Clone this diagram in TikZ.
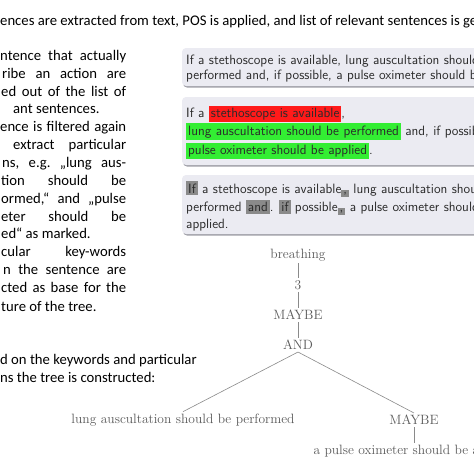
\documentclass[tikz,border=0pt]{standalone}
\usepackage{fontspec}
\newfontfamily\cali{Carlito}
\definecolor{boxfill}{HTML}{EBEBF2}
\definecolor{shadowgray}{HTML}{A0A0A8}
\definecolor{hlred}{HTML}{FF1A1A}
\definecolor{hlgreen}{HTML}{33EE33}
\definecolor{hlgray}{HTML}{8A8A8A}
\definecolor{textgray}{HTML}{2A2A2A}
\definecolor{treegray}{HTML}{5A5A5A}
\definecolor{linegray}{HTML}{8A8A8A}
\setlength{\fboxsep}{2pt}
\newcommand\jline[4]{\node[lt] (#1) at (#2,#3) {\hbox to \dimexpr126pt-#2pt\relax{#4}};}
\begin{document}
\begin{tikzpicture}[x=1pt,y=-1pt,
  lt/.style={font=\cali\fontsize{14.7}{17}\selectfont, inner sep=0pt, anchor=base west, text=black},
  bx/.style={font=\sffamily\fontsize{13.5}{16}\selectfont, inner sep=0pt, anchor=base west, text=textgray},
  tr/.style={font=\fontsize{13.5}{16}\selectfont, text=treegray, inner sep=2pt},
  edge/.style={draw=linegray, line width=0.6pt},
  panel/.style={fill=boxfill, rounded corners=4pt},
  panelshadow/.style={fill=shadowgray, rounded corners=4pt}]
\useasboundingbox (0,0) rectangle (474,474);
\clip (0,0) rectangle (474,474);
\fill[white] (0,0) rectangle (474,474);

% heading line
\node[lt] (head) at (0,25) {ences are extracted from text, POS is applied, and list of relevant sentences is generated.};

% left paragraph
\jline{l1}{0}{60.5}{ntence\hfill that\hfill actually}
\jline{l2}{2}{78}{ribe\hfill an\hfill action\hfill are}
\jline{l3}{1}{96}{ed\hfill out\hfill of\hfill the\hfill list\hfill of}
\node[lt] (l4) at (13,113.5) {ant sentences.};
\jline{l5}{0}{131.5}{ence\hfill is\hfill filtered\hfill again}
\jline{l6}{13}{149.5}{extract\hfill particular}
\jline{l7}{2}{167.5}{ns,\hfill e.g.\hfill „lung\hfill aus-}
\jline{l8}{1}{185.5}{tion\hfill should\hfill be}
\jline{l9}{1}{203}{ormed,“\hfill and\hfill „pulse}
\jline{l10}{1}{221}{eter\hfill should\hfill be}
\node[lt] (l11) at (1,238.5) {ed“ as marked.};
\jline{l12}{1}{256.5}{cular\hfill key-words}
\jline{l13}{3}{274.5}{n\hfill the\hfill sentence\hfill are}
\jline{l14}{1}{292.5}{cted\hfill as\hfill base\hfill for\hfill the}
\node[lt] (l15) at (1,311) {ture of the tree.};

\node[lt] (b1) at (0,364) {d on the keywords and particular};
\node[lt] (b2) at (0,382) {ns the tree is constructed:};

% panels
\fill[panelshadow] (183,50.5) rectangle (490,87.5);
\fill[panel] (182,48) rectangle (490,86);
\fill[panelshadow] (183,99.5) rectangle (490,166.5);
\fill[panel] (182,97) rectangle (490,165);
\fill[panelshadow] (183,177.5) rectangle (490,235.5);
\fill[panel] (182,175) rectangle (490,234);

\node[bx] (p1a) at (186,64) {If a stethoscope is available, lung auscultation should be};
\node[bx] (p1b) at (186,79) {performed and, if possible, a pulse oximeter should be applied.};

\node[bx] (p2a) at (186,117) {If a \colorbox{hlred}{stethoscope is available},};
\node[bx] (p2b) at (186,135) {\colorbox{hlgreen}{lung auscultation should be performed} and, if possible, a};
\node[bx] (p2c) at (186,154) {\colorbox{hlgreen}{pulse oximeter should be applied}.};

\node[bx] (p3a) at (186,193) {\colorbox{hlgray}{If} a stethoscope is available\colorbox{hlgray}{,} lung auscultation should be};
\node[bx] (p3b) at (186,211.5) {performed \colorbox{hlgray}{and}. \colorbox{hlgray}{if} possible\colorbox{hlgray}{,} a pulse oximeter should be};
\node[bx] (p3c) at (186,228) {applied.};

% tree
\node[tr] (br) at (298,255) {breathing};
\node[tr] (n3) at (298,285) {3};
\node[tr] (mb1) at (298,315) {MAYBE};
\node[tr] (and) at (298,345) {AND};
\node[tr] (lung) at (183,420) {lung auscultation should be performed};
\node[tr] (mb2) at (414,420) {MAYBE};
\node[tr] (pulse) at (414,451) {a pulse oximeter should be applied};
\draw[edge] (br.south) -- (n3.north);
\draw[edge] (n3.south) -- (mb1.north);
\draw[edge] (mb1.south) -- (and.north);
\draw[edge] (and.south) -- (lung.north);
\draw[edge] (and.south) -- (mb2.north);
\draw[edge] (mb2.south) -- (pulse.north);
\end{tikzpicture}
\end{document}
